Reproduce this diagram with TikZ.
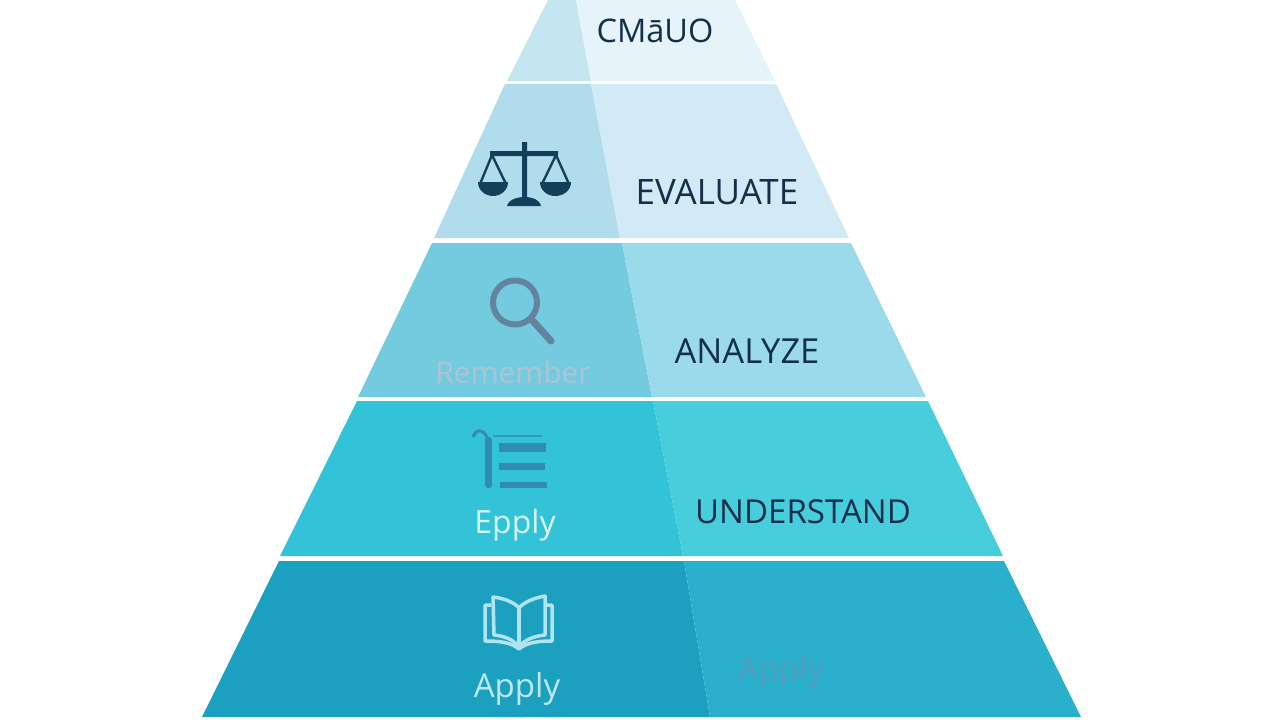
\documentclass[tikz,border=0pt]{standalone}
\usepackage{fontspec}
\setmainfont{Open Sans}
\definecolor{ink}{HTML}{12304A}
\definecolor{scaleink}{HTML}{123F5A}
\definecolor{lensink}{RGB}{98,132,156}
\definecolor{listink}{RGB}{50,140,176}
\definecolor{bookink}{RGB}{176,228,240}
\tikzset{
  tierlabel/.style={inner sep=0pt,anchor=base,text=ink},
  iconlabel/.style={inner sep=0pt,anchor=base},
  every path/.style={line join=round}
}
\begin{document}
\begin{tikzpicture}[x=1pt,y=-1pt]
\useasboundingbox[fill=white] (0,0) rectangle (1280,720);
% tier 1
\fill[color={rgb,255:red,197;green,229;blue,241}] (548,0) -- (576,0) -- (591,81) -- (507,81) -- cycle;
\fill[color={rgb,255:red,230;green,243;blue,250}] (576,0) -- (735,0) -- (775,81) -- (591,81) -- cycle;
% tier 2
\fill[color={rgb,255:red,176;green,220;blue,236}] (505,84) -- (591,84) -- (620,238) -- (434,238) -- cycle;
\fill[color={rgb,255:red,209;green,234;blue,246}] (591,84) -- (776,84) -- (849,238) -- (620,238) -- cycle;
% tier 3
\fill[color={rgb,255:red,116;green,203;blue,224}] (432,243) -- (622,243) -- (652,397) -- (358,397) -- cycle;
\fill[color={rgb,255:red,154;green,218;blue,235}] (622,243) -- (851,243) -- (926,397) -- (652,397) -- cycle;
% tier 4
\fill[color={rgb,255:red,51;green,195;blue,216}] (357,401) -- (653,401) -- (683,556) -- (280,556) -- cycle;
\fill[color={rgb,255:red,72;green,205;blue,221}] (653,401) -- (928,401) -- (1003,556) -- (683,556) -- cycle;
% tier 5
\fill[color={rgb,255:red,28;green,160;blue,192}] (279,561) -- (684,561) -- (710,717) -- (202,717) -- cycle;
\fill[color={rgb,255:red,42;green,176;blue,204}] (684,561) -- (1004,561) -- (1081,717) -- (710,717) -- cycle;
% scales
\begin{scope}[color=scaleink]
\fill (522,142) -- (527,142) -- (527,151) -- (558,151) -- (558,156) -- (527,156) -- (527,197) .. controls (533,198) and (539,199) .. (541,206) -- (507,206) .. controls (509,199) and (516,198) .. (522,197) -- (522,156) -- (490,156) -- (490,151) -- (522,151) -- cycle;
\draw[line width=2.4pt] (492,155) -- (480,184) (492,155) -- (506,184);
\draw[line width=2.4pt] (556,155) -- (542,184) (556,155) -- (569,184);
\fill (478,182) -- (508,182) .. controls (508,191) and (500,196) .. (493,196) .. controls (486,196) and (478,191) .. (478,182) -- cycle;
\fill (540,182) -- (571,182) .. controls (571,191) and (563,196) .. (555,196) .. controls (548,196) and (540,191) .. (540,182) -- cycle;
\end{scope}
% magnifier
\draw[color=lensink,line width=6pt] (515,302.5) circle[radius=22];
\draw[color=lensink,line width=7pt,line cap=round] (533,321) -- (551,341);
% list icon
\begin{scope}[color=listink]
\draw[line width=6.5pt,line cap=round] (488.5,485) -- (488.5,440);
\draw[line width=3pt] (488,442) .. controls (487,431) and (477,426) .. (473,437);
\draw[line width=2pt,opacity=.8] (493,436) -- (542,436);
\fill (499,443) rectangle (546,452);
\fill (499,463) rectangle (545,470);
\fill (500,482) rectangle (547,488);
\end{scope}
% book icon
\begin{scope}[color=bookink,line width=3.5pt]
\draw (519,608) .. controls (514,602) and (503,598) .. (493,597) -- (494,635) .. controls (505,636) and (514,640) .. (519,647) .. controls (524,640) and (534,636) .. (545,635) -- (545,596) .. controls (534,598) and (524,602) .. (519,608) -- cycle;
\draw (519,608) -- (519,647);
\draw (491,605) -- (485,605) -- (485,641) .. controls (498,641) and (511,642) .. (519,649) .. controls (527,642) and (540,641) .. (552,641) -- (552,605) -- (547,605);
\end{scope}
% text
\node[tierlabel,font=\fontsize{32.5}{34}\selectfont] (t1) at (655,42) {CMāUO};
\node[tierlabel,font=\fontsize{35}{36}\selectfont] (t2) at (717,204) {EVALUATE};
\node[tierlabel,font=\fontsize{34.5}{36}\selectfont] (t3) at (747,363.5) {ANALYZE};
\node[tierlabel,font=\fontsize{33}{36}\selectfont] (t4) at (803,523) {UNDERSTAND};
\node[iconlabel,font=\fontsize{30}{32}\selectfont,text={rgb,255:red,172;green,196;blue,214}] (l3) at (513,383) {Remember};
\node[iconlabel,font=\fontsize{32}{34}\selectfont,text={rgb,255:red,214;green,244;blue,248}] (l4) at (515,533) {Epply};
\node[iconlabel,font=\fontsize{33}{35}\selectfont,text={rgb,255:red,190;green,232;blue,240}] (l5) at (517,697) {Apply};
\node[iconlabel,font=\fontsize{33}{35}\selectfont,text={rgb,255:red,85;green,155;blue,190}] (l6) at (781,680) {Apply};
\end{tikzpicture}
\end{document}
